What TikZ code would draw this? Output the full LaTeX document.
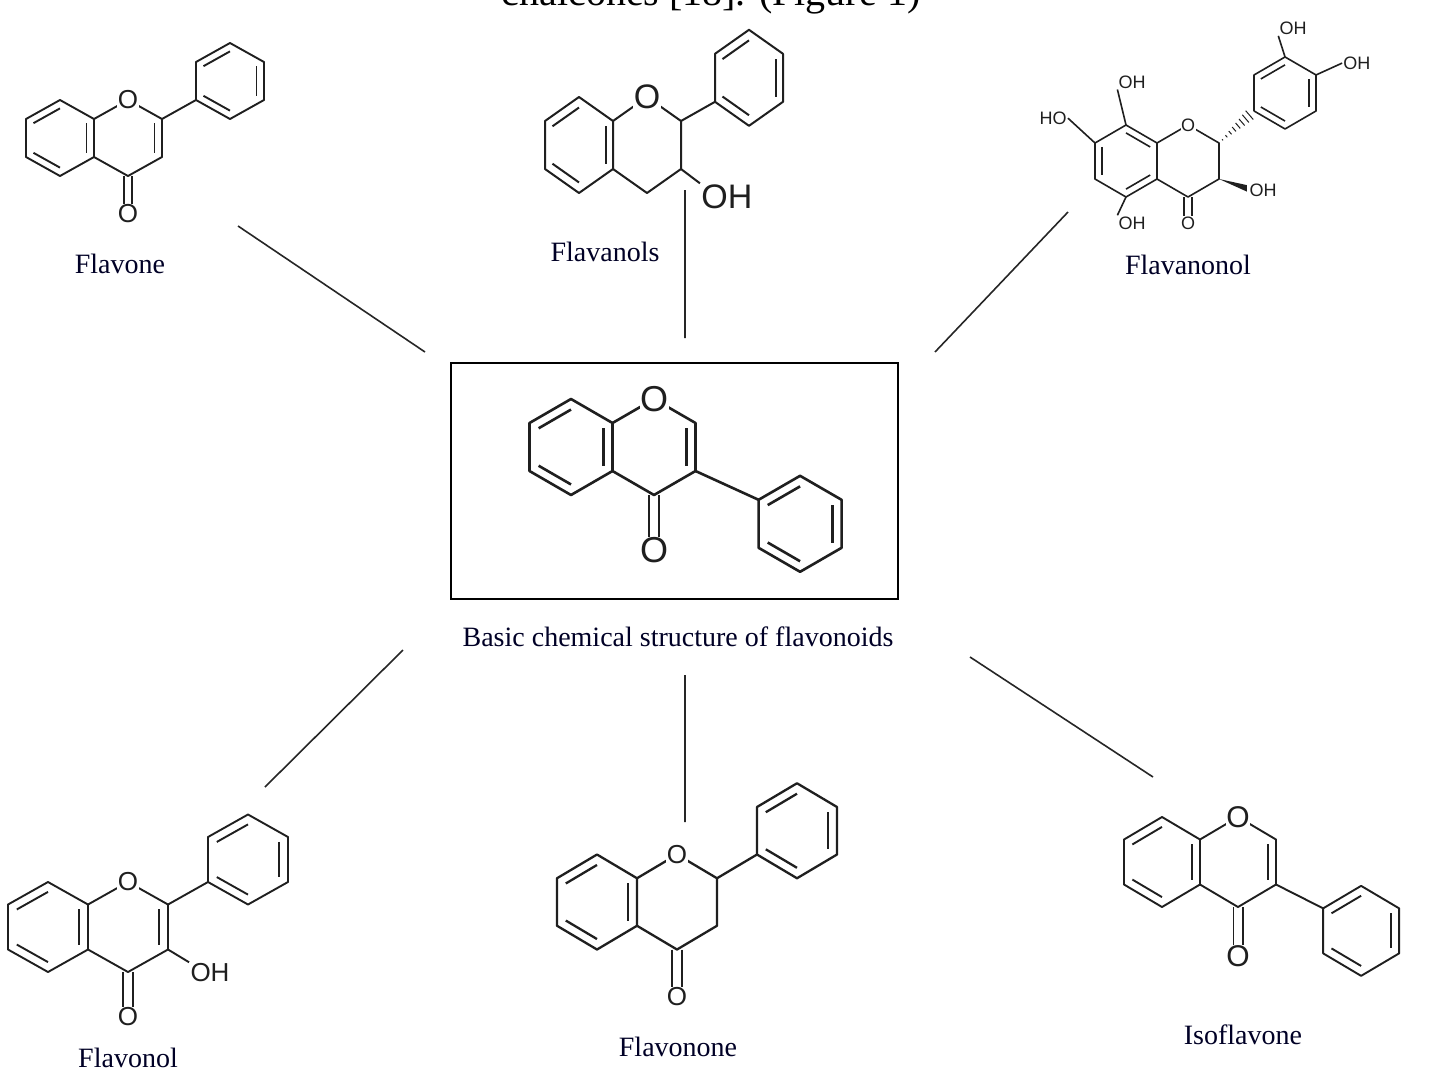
\documentclass[tikz,border=0pt]{standalone}
\usepackage{fontspec}
\setmainfont{Liberation Serif}
\newfontfamily\atomf{Liberation Sans}
\usetikzlibrary{calc}
\newcommand\dbl[3]{\draw ($(#1)!0.22!(#3)$)--($(#2)!0.22!(#3)$);}
\newcommand\benzoA{%
 \draw (1,.5)--(0,1)--(-1,.5)--(-1,-.5)--(0,-1)--(1,-.5)--cycle;
 \dbl{0,1}{-1,.5}{0,0}\dbl{-1,-.5}{0,-1}{0,0}\dbl{1,-.5}{1,.5}{0,0}}
\newcommand\phen[2]{\begin{scope}[shift={(#1,#2)}]
 \draw (-1,.5)--(0,1)--(1,.5)--(1,-.5)--(0,-1)--(-1,-.5)--cycle;
 \dbl{-1,.5}{0,1}{0,0}\dbl{1,.5}{1,-.5}{0,0}\dbl{0,-1}{-1,-.5}{0,0}
\end{scope}}
\newcommand\ringC{\draw (1,.5)--(2,1)--(3,.5)--(3,-.5)--(2,-1)--(1,-.5);}
\newcommand\carbonyl[1]{\draw (1.88,-1)--(1.88,#1) (2.12,-1)--(2.12,#1);}
\tikzset{
 atom/.style={fill=white,inner sep=0.5pt},
 lbl/.style={text=black!85!blue,font=\fontsize{28}{30}\selectfont},
 conn/.style={line width=1.6pt,black!85},
 mol/.style={line width=#1,black!88,line join=round},
}
\begin{document}
\begin{tikzpicture}[x=1pt,y=-1pt]
\fill[white] (0,0) rectangle (1433,1077);
\useasboundingbox (0,0) rectangle (1433,1077);
\node[anchor=base,font=\fontsize{40}{40}\selectfont] (toptext) at (711,5) {chalcones [18]. (Figure 1)};

% central
\node[draw,line width=1.6pt,minimum width=447pt,minimum height=236pt,anchor=north west,inner sep=0pt] (box) at (450,362) {};
\begin{scope}[shift={(571pt,-447pt)},x={(41.5pt,0pt)},y={(0pt,48pt)},mol=2.6pt,font=\atomf\fontsize{36}{36}\selectfont]
 \benzoA \ringC \dbl{3,.5}{3,-.5}{2,0}
 \draw (3,-.5)--(4.52,-1.1); \phen{5.52}{-1.6}
 \carbonyl{-2.15}
 \node[atom] (cO1) at (2,1) {O};
 \node[atom] (cO4) at (2,-2.15) {O};
\end{scope}
\node[lbl] (lc) at (678,637) {Basic chemical structure of flavonoids};

% flavone
\begin{scope}[shift={(60pt,-138pt)},x={(34pt,0pt)},y={(0pt,38pt)},mol=1.9pt,font=\atomf\fontsize{26}{26}\selectfont]
 \benzoA \ringC \dbl{3,.5}{3,-.5}{2,0}
 \draw (3,.5)--(4,1); \phen{5}{1.5}
 \carbonyl{-2}
 \node[atom] (aO1) at (2,1) {O};
 \node[atom] (aO4) at (2,-2) {O};
\end{scope}
\node[lbl] (la) at (120,264) {Flavone};

% flavanols
\begin{scope}[shift={(579pt,-145pt)},x={(34pt,0pt)},y={(0pt,48pt)},mol=2pt,font=\atomf\fontsize{34}{34}\selectfont]
 \benzoA \ringC
 \draw (3,.5)--(4,0.9); \phen{5}{1.4}
 \node[atom] (bO1) at (2,1) {O};
 \node[atom] (bOH) at (4.35,-1.08) {OH};
 \draw (3,-.5)--(bOH.north west);
\end{scope}
\node[lbl] (lb) at (605,252) {Flavanols};

% flavanonol
\begin{scope}[shift={(1126pt,-161pt)},x={(31pt,0pt)},y={(0pt,36pt)},mol=1.6pt,font=\atomf\fontsize{18}{18}\selectfont]
 \draw (1,.5)--(0,1)--(-1,.5)--(-1,-.5)--(0,-1)--(1,-.5)--cycle;
 \dbl{0,1}{1,.5}{0,0}\dbl{-1,.5}{-1,-.5}{0,0}\dbl{0,-1}{1,-.5}{0,0}
 \ringC
 \carbonyl{-1.72}
 \phen{5.13}{1.89}
 \foreach \t in {0.1,0.21,...,0.95}{\draw[line width=1pt] ($(3,.5)!\t!(4.13,1.39)$) +({0.14*\t},{-0.14*\t}) -- +({-0.14*\t},{0.14*\t});}
 \fill (3,-.5) -- (3.9,-.67) -- (3.9,-.85) -- cycle;
 \node[atom] (dO1) at (2,1) {O};
 \node[atom] (dO4) at (2,-1.72) {O};
 \node[atom] (dOH8) at (0.2,2.2) {OH};
 \draw (0,1)--(dOH8.south west);
 \node[atom] (dHO7) at (-2.35,1.19) {HO};
 \draw (-1,.5)--(dHO7.east);
 \node[atom] (dOH5) at (0.2,-1.72) {OH};
 \draw (0,-1)--(dOH5.north west);
 \node[atom] (dOH3) at (4.42,-.8) {OH};
 \node[atom] (dOH3p) at (5.39,3.69) {OH};
 \draw (5.13,2.89)--(dOH3p.south west);
 \node[atom] (dOH4p) at (7.45,2.72) {OH};
 \draw (6.13,2.39)--(dOH4p.west);
\end{scope}
\node[lbl] (ld) at (1188,265) {Flavanonol};

% flavonol
\begin{scope}[shift={(48pt,-927pt)},x={(40pt,0pt)},y={(0pt,45pt)},mol=1.9pt,font=\atomf\fontsize{26}{26}\selectfont]
 \benzoA \ringC \dbl{3,.5}{3,-.5}{2,0}
 \draw (3,.5)--(4,1); \phen{5}{1.5}
 \carbonyl{-2}
 \node[atom] (eO1) at (2,1) {O};
 \node[atom] (eO4) at (2,-2) {O};
 \node[atom] (eOH) at (4.05,-1.02) {OH};
 \draw (3,-.5)--(eOH.north west);
\end{scope}
\node[lbl] (le) at (128,1058) {Flavonol};

% flavonone
\begin{scope}[shift={(597pt,-902pt)},x={(40pt,0pt)},y={(0pt,47.5pt)},mol=2.3pt,font=\atomf\fontsize{26}{26}\selectfont]
 \benzoA \ringC
 \draw (3,.5)--(4,1); \phen{5}{1.5}
 \carbonyl{-2}
 \node[atom] (fO1) at (2,1) {O};
 \node[atom] (fO4) at (2,-2) {O};
\end{scope}
\node[lbl] (lf) at (678,1047) {Flavonone};

% isoflavone
\begin{scope}[shift={(1162pt,-862pt)},x={(38pt,0pt)},y={(0pt,45pt)},mol=1.9pt,font=\atomf\fontsize{30}{30}\selectfont]
 \benzoA \ringC \dbl{3,.5}{3,-.5}{2,0}
 \draw (3,-.5)--(4.24,-1.03); \phen{5.24}{-1.53}
 \carbonyl{-2.1}
 \node[atom] (gO1) at (2,1) {O};
 \node[atom] (gO4) at (2,-2.1) {O};
\end{scope}
\node[lbl] (lg) at (1243,1035) {Isoflavone};

% connectors
\coordinate (a1) at (238,226); \coordinate (a2) at (425,352);
\coordinate (b1) at (685,190); \coordinate (b2) at (685,338);
\coordinate (d1) at (1068,212); \coordinate (d2) at (935,352);
\coordinate (e1) at (403,650); \coordinate (e2) at (265,787);
\coordinate (f1) at (685,675); \coordinate (f2) at (685,822);
\coordinate (g1) at (970,657); \coordinate (g2) at (1153,777);
\draw[conn] (a1)--(a2) (b1)--(b2) (d1)--(d2) (e1)--(e2) (f1)--(f2) (g1)--(g2);
\end{tikzpicture}
\end{document}
